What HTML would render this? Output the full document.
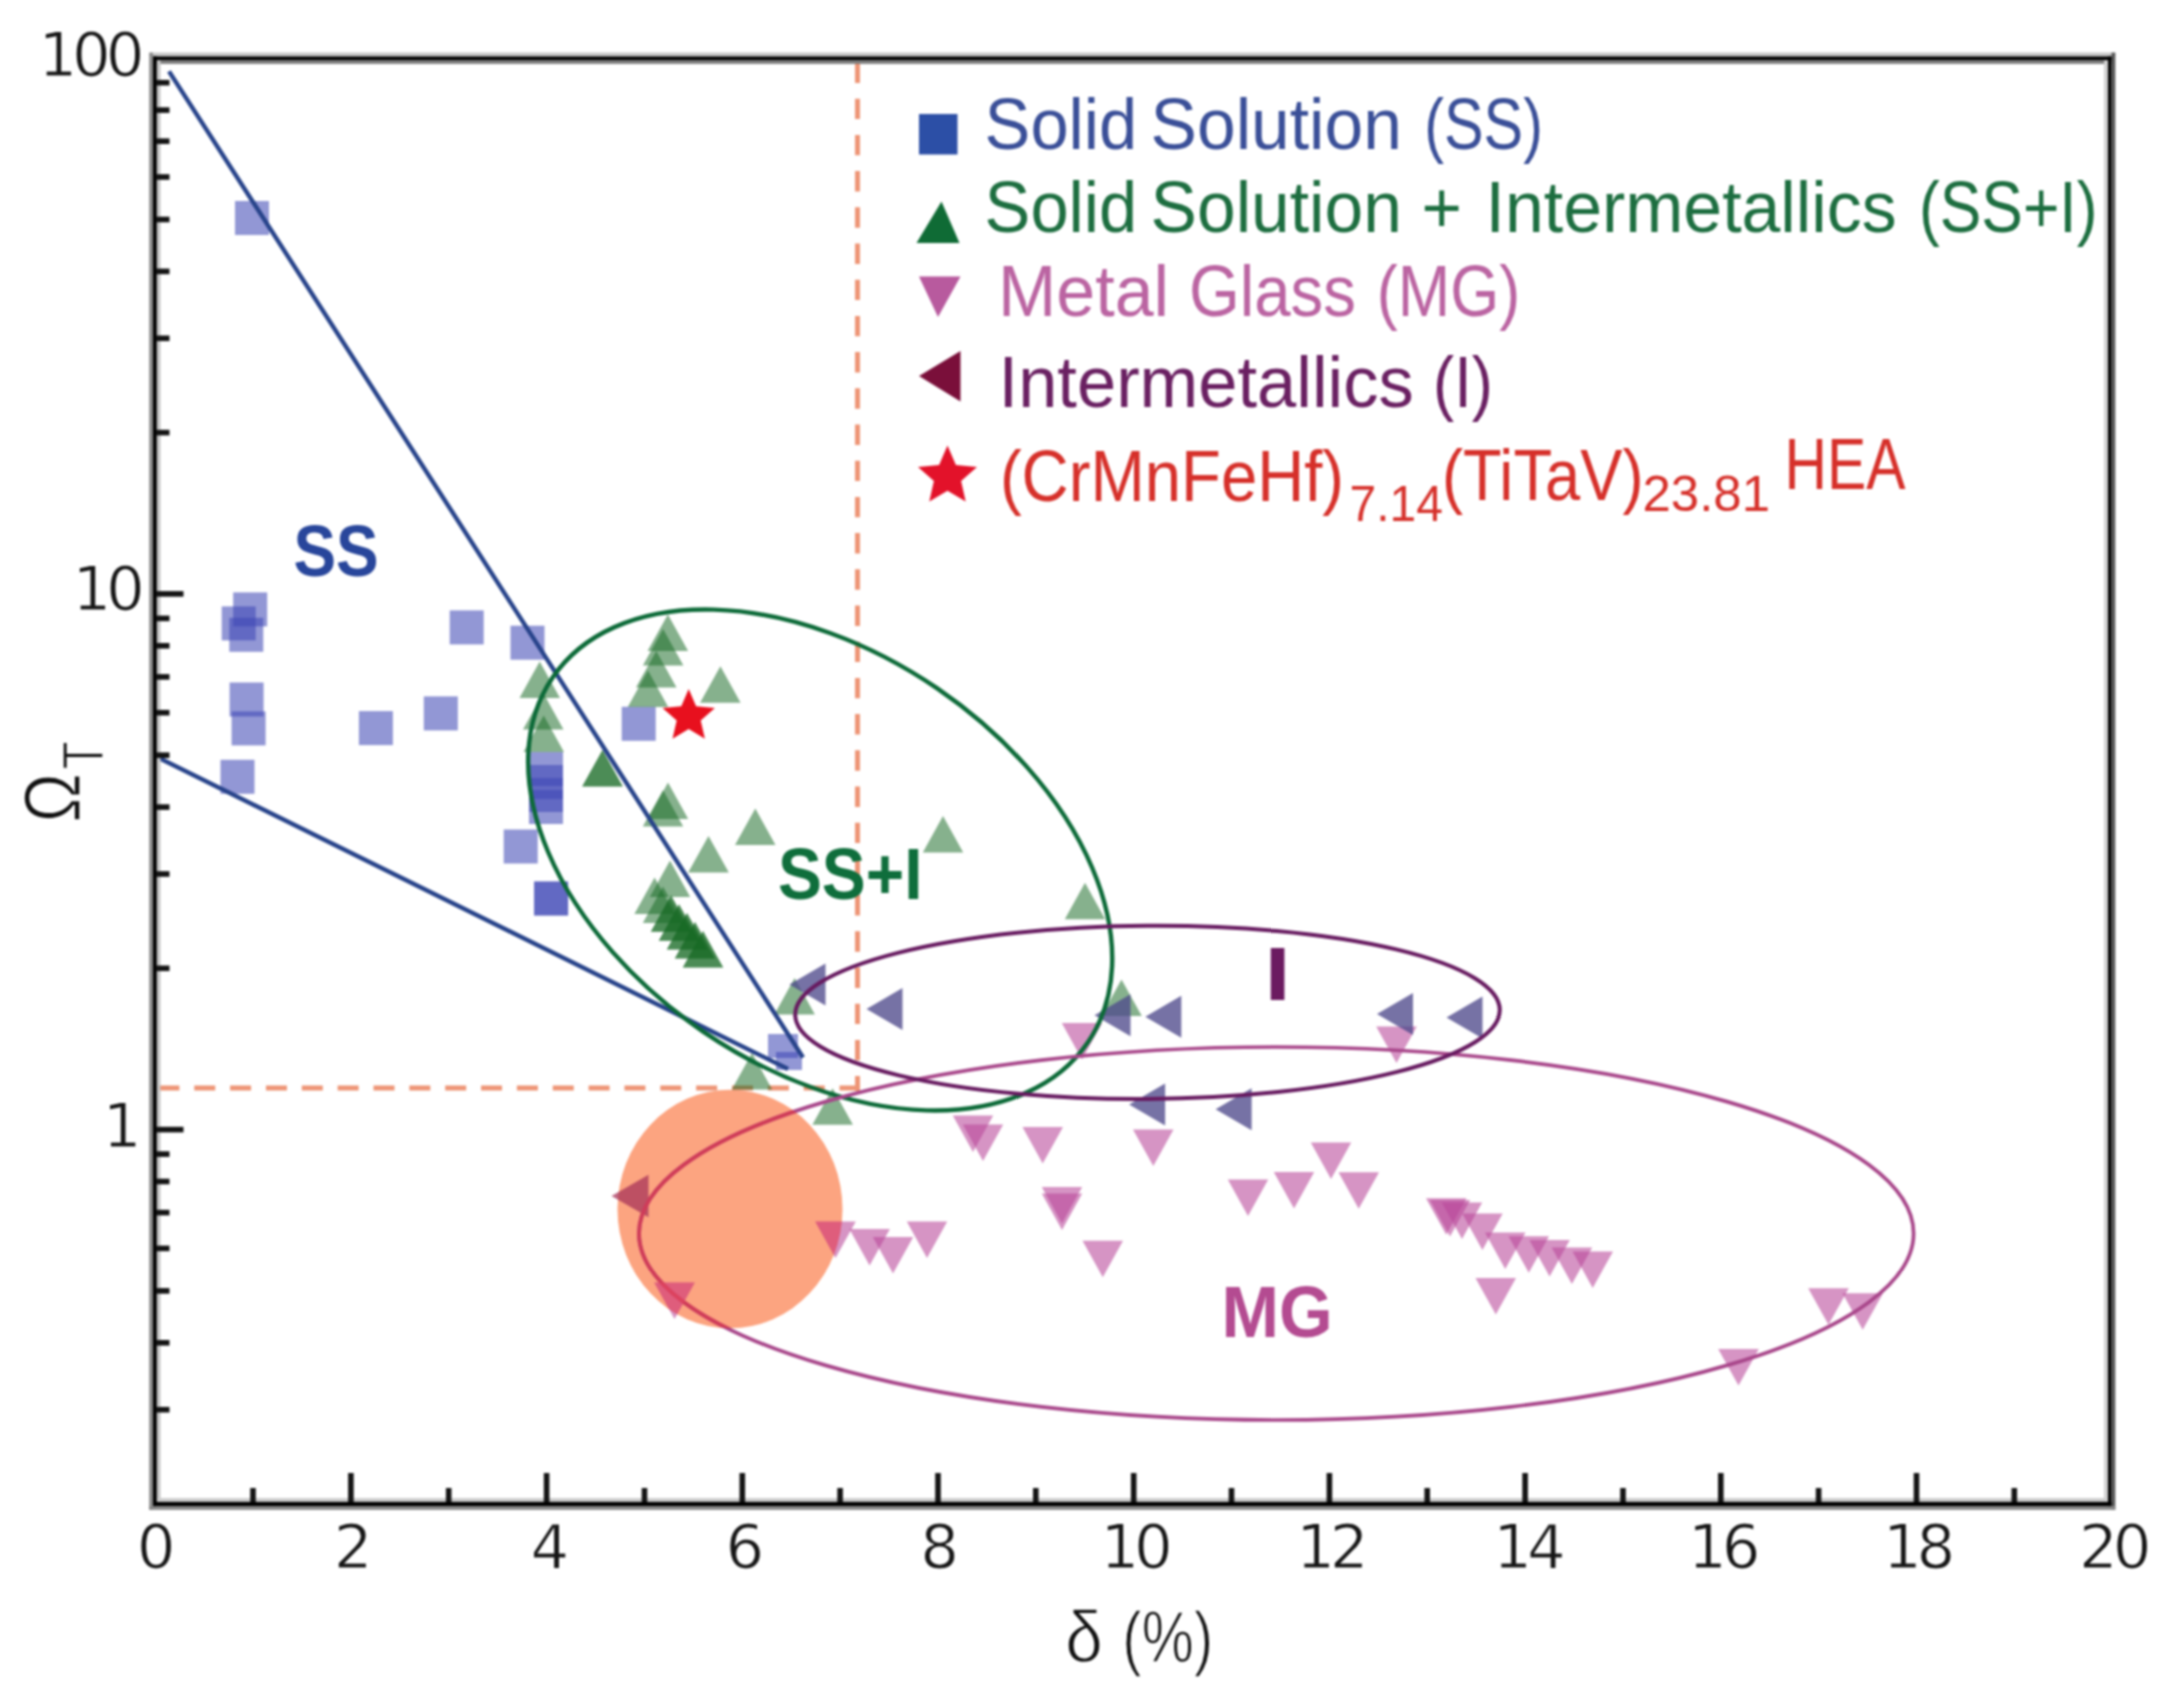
<!DOCTYPE html>
<html lang="en"><head><meta charset="utf-8"><title>Phase selection map</title>
<style>html,body{margin:0;padding:0;background:#fff;overflow:hidden;width:2169px;height:1704px}svg{display:block;filter:blur(0.8px)}text{font-family:"Liberation Sans",Arial,Helvetica,sans-serif}</style></head><body>
<svg width="2169" height="1704" viewBox="0 0 2169 1704">
<rect width="2169" height="1704" fill="#ffffff"/>
<ellipse cx="730" cy="1209" rx="112.5" ry="119.3" fill="#fca480"/>
<line x1="857.5" y1="62.5" x2="857.5" y2="1091" stroke="#ee9576" stroke-width="5" stroke-dasharray="20.4 15.8"/>
<line x1="158.4" y1="1088" x2="859" y2="1088" stroke="#ee9576" stroke-width="5" stroke-dasharray="21 14.85"/>
<g fill="#3c45b4" fill-opacity="0.56">
<rect x="235.0" y="201.0" width="34" height="34"/>
<rect x="233.2" y="592.4" width="34" height="34"/>
<rect x="221.7" y="606.4" width="34" height="34"/>
<rect x="229.3" y="617.8" width="34" height="34"/>
<rect x="449.7" y="610.4" width="34" height="34"/>
<rect x="510.5" y="625.7" width="34" height="34"/>
<rect x="229.6" y="682.5" width="34" height="34"/>
<rect x="231.6" y="711.4" width="34" height="34"/>
<rect x="220.5" y="759.8" width="34" height="34"/>
<rect x="358.9" y="711.1" width="34" height="34"/>
<rect x="423.8" y="696.4" width="34" height="34"/>
<rect x="621.7" y="706.8" width="34" height="34"/>
<rect x="529.0" y="752.0" width="34" height="34"/>
<rect x="529.0" y="765.0" width="34" height="34"/>
<rect x="529.0" y="778.0" width="34" height="34"/>
<rect x="529.0" y="790.0" width="34" height="34"/>
<rect x="503.7" y="829.5" width="34" height="34"/>
<rect x="534.1" y="881.5" width="34" height="34"/>
<rect x="534.1" y="881.5" width="34" height="34"/>
<rect x="768" y="1034" width="30" height="24"/><rect x="776" y="1052" width="26" height="18"/>
</g>
<g fill="#176a24" fill-opacity="0.52">
<path d="M647.6 651.0L688.1 651.0L667.9 614.5Z"/>
<path d="M642.9 665.5L683.4 665.5L663.1 629.0Z"/>
<path d="M636.0 687.5L676.5 687.5L656.3 651.0Z"/>
<path d="M627.8 707.0L668.2 707.0L648.0 670.5Z"/>
<path d="M700.1 702.7L740.6 702.7L720.4 666.2Z"/>
<path d="M519.5 698.0L560.0 698.0L539.7 661.5Z"/>
<path d="M523.0 729.4L563.5 729.4L543.3 692.9Z"/>
<path d="M523.5 752.0L564.0 752.0L543.7 715.5Z"/>
<path d="M735.0 845.0L775.5 845.0L755.3 808.5Z"/>
<path d="M688.2 872.5L728.8 872.5L708.5 836.0Z"/>
<path d="M922.8 852.5L963.2 852.5L943.0 816.0Z"/>
<path d="M1064.8 919.3L1105.2 919.3L1085.0 882.8Z"/>
<path d="M649.8 897.0L690.2 897.0L670.0 860.5Z"/>
<path d="M634.4 914.0L674.9 914.0L654.6 877.5Z"/>
<path d="M1101.2 1016.0L1141.8 1016.0L1121.5 979.5Z"/>
<path d="M774.4 1014.4L814.9 1014.4L794.6 977.9Z"/>
<path d="M731.8 1089.5L772.2 1089.5L752.0 1053.0Z"/>
<path d="M812.4 1124.7L852.9 1124.7L832.6 1088.2Z"/>
<path d="M582.2 786.5L622.8 786.5L602.5 750.0Z"/>
<path d="M582.2 786.5L622.8 786.5L602.5 750.0Z"/>
<path d="M647.8 819.0L688.2 819.0L668.0 782.5Z"/>
<path d="M642.8 826.5L683.2 826.5L663.0 790.0Z"/>
<path d="M642.8 922.9L683.2 922.9L663.0 886.4Z"/>
<path d="M650.8 931.8L691.2 931.8L671.0 895.3Z"/>
<path d="M658.8 940.7L699.2 940.7L679.0 904.2Z"/>
<path d="M666.8 949.6L707.2 949.6L687.0 913.1Z"/>
<path d="M674.8 958.5L715.2 958.5L695.0 922.0Z"/>
<path d="M682.8 967.4L723.2 967.4L703.0 930.9Z"/>
<path d="M650.8 931.8L691.2 931.8L671.0 895.3Z"/>
<path d="M658.8 940.7L699.2 940.7L679.0 904.2Z"/>
<path d="M666.8 949.6L707.2 949.6L687.0 913.1Z"/>
<path d="M674.8 958.5L715.2 958.5L695.0 922.0Z"/>
<path d="M682.8 967.4L723.2 967.4L703.0 930.9Z"/>
</g>
<g fill="#b8469a" fill-opacity="0.58">
<path d="M952.8 1115.5L993.2 1115.5L973.0 1152.0Z"/>
<path d="M962.8 1124.5L1003.2 1124.5L983.0 1161.0Z"/>
<path d="M1022.5 1127.0L1063.0 1127.0L1042.7 1163.5Z"/>
<path d="M1133.0 1129.4L1173.5 1129.4L1153.3 1165.9Z"/>
<path d="M1310.8 1142.5L1351.2 1142.5L1331.0 1179.0Z"/>
<path d="M1338.5 1172.3L1379.0 1172.3L1358.7 1208.8Z"/>
<path d="M1273.8 1172.0L1314.2 1172.0L1294.0 1208.5Z"/>
<path d="M1227.8 1179.4L1268.2 1179.4L1248.0 1215.9Z"/>
<path d="M1041.8 1187.0L1082.2 1187.0L1062.0 1223.5Z"/>
<path d="M1041.8 1193.5L1082.2 1193.5L1062.0 1230.0Z"/>
<path d="M1082.5 1240.7L1123.0 1240.7L1102.8 1277.2Z"/>
<path d="M815.2 1221.5L855.8 1221.5L835.5 1258.0Z"/>
<path d="M849.4 1229.0L889.9 1229.0L869.6 1265.5Z"/>
<path d="M872.8 1237.0L913.2 1237.0L893.0 1273.5Z"/>
<path d="M906.8 1221.5L947.2 1221.5L927.0 1258.0Z"/>
<path d="M1376.2 1026.5L1416.8 1026.5L1396.5 1063.0Z"/>
<path d="M1061.8 1023.0L1102.2 1023.0L1082.0 1059.5Z"/>
<path d="M1426.0 1198.2L1466.5 1198.2L1446.3 1234.7Z"/>
<path d="M1429.8 1200.0L1470.2 1200.0L1450.0 1236.5Z"/>
<path d="M1441.8 1202.5L1482.2 1202.5L1462.0 1239.0Z"/>
<path d="M1462.2 1213.4L1502.7 1213.4L1482.4 1249.9Z"/>
<path d="M1485.0 1232.4L1525.5 1232.4L1505.2 1268.9Z"/>
<path d="M1508.5 1236.2L1549.0 1236.2L1528.8 1272.7Z"/>
<path d="M1529.3 1240.0L1569.8 1240.0L1549.6 1276.5Z"/>
<path d="M1551.7 1247.6L1592.2 1247.6L1571.9 1284.1Z"/>
<path d="M1572.5 1251.4L1613.0 1251.4L1592.7 1287.9Z"/>
<path d="M1475.5 1278.0L1516.0 1278.0L1495.8 1314.5Z"/>
<path d="M1808.2 1288.2L1848.8 1288.2L1828.5 1324.7Z"/>
<path d="M1842.5 1293.3L1883.0 1293.3L1862.7 1329.8Z"/>
<path d="M1718.2 1349.0L1758.8 1349.0L1738.5 1385.5Z"/>
<path d="M654.2 1282.5L694.8 1282.5L674.5 1319.0Z"/>
</g>
<g fill="#504a8c" fill-opacity="0.78">
<path d="M866.5 1009.0L902.5 988.0L902.5 1030.0Z"/>
<path d="M789.5 984.5L825.5 963.5L825.5 1005.5Z"/>
<path d="M1145.3 1016.7L1181.3 995.7L1181.3 1037.7Z"/>
<path d="M1094.5 1015.3L1130.5 994.3L1130.5 1036.3Z"/>
<path d="M1377.0 1014.0L1413.0 993.0L1413.0 1035.0Z"/>
<path d="M1446.5 1017.5L1482.5 996.5L1482.5 1038.5Z"/>
<path d="M1129.1 1104.6L1165.1 1083.6L1165.1 1125.6Z"/>
<path d="M1215.6 1109.2L1251.6 1088.2L1251.6 1130.2Z"/>
</g>
<path d="M611.5 1196L648.5 1174.8L648.5 1217.2Z" fill="#a8345a" fill-opacity="0.75"/>
<g fill="none" stroke-linecap="butt">
<path d="M169 71.4L803 1057.5" stroke="#27438a" stroke-width="4.4"/>
<path d="M157 757L788 1069" stroke="#27438a" stroke-width="4.4"/>
<ellipse cx="820.2" cy="860" rx="323.9" ry="207.7" transform="rotate(34.3 820.2 860)" stroke="#0c6a38" stroke-width="4.4"/>
<ellipse cx="1276.3" cy="1233.5" rx="637.3" ry="186.5" stroke="#a8468a" stroke-width="3.7"/>
<ellipse cx="1147.5" cy="1012.4" rx="352.3" ry="86.6" transform="rotate(-0.4 1147.5 1012.4)" stroke="#671a60" stroke-width="4.0"/>
</g>
<clipPath id="oc"><ellipse cx="730" cy="1209" rx="112.5" ry="119.3"/></clipPath>
<g clip-path="url(#oc)">
<ellipse cx="1276.3" cy="1233.5" rx="637.3" ry="186.5" fill="none" stroke="#d03c58" stroke-width="3.9"/>
<path d="M815.2 1221.5L855.8 1221.5L835.5 1258.0Z" fill="#ea4a66" fill-opacity="0.45"/>
<path d="M654.2 1282.5L694.8 1282.5L674.5 1319.0Z" fill="#ea4a66" fill-opacity="0.45"/>
</g>
<path d="M688.7 689.0L696.1 706.3L714.9 708.0L700.7 720.4L704.9 738.7L688.7 729.1L672.5 738.7L676.7 720.4L662.5 708.0L681.3 706.3Z" fill="#e8101e"/>
<g>
<rect x="149.2" y="52.6" width="1966.1" height="3.8" fill="#c6c6c6"/>
<rect x="153" y="60.1" width="1958.5" height="3.8" fill="#7c7c7c"/>
<rect x="149.2" y="52.6" width="3.8" height="1457.3" fill="#8c8c8c"/>
<rect x="156.8" y="60.1" width="3.7" height="1441.8" fill="#c6c6c6"/>
<rect x="2104" y="60.1" width="4" height="1441.8" fill="#d0d0d0"/>
<rect x="2111.5" y="52.6" width="3.8" height="1457.3" fill="#585858"/>
<rect x="156.8" y="1498.1" width="1951.2" height="3.8" fill="#cccccc"/>
<rect x="149.2" y="1506.1" width="1966.1" height="3.8" fill="#888888"/>
<rect x="153" y="56.4" width="1958.5" height="3.7" fill="#000"/>
<rect x="153" y="1501.9" width="1958.5" height="4.2" fill="#000"/>
<rect x="153" y="56.4" width="3.8" height="1449.7" fill="#000"/>
<rect x="2108" y="56.4" width="3.5" height="1449.7" fill="#000"/>
</g>
<g stroke="#141414" fill="none" stroke-width="5.6">
<line x1="253.0" y1="1502" x2="253.0" y2="1488"/>
<line x1="350.9" y1="1502" x2="350.9" y2="1473"/>
<line x1="448.7" y1="1502" x2="448.7" y2="1488"/>
<line x1="546.6" y1="1502" x2="546.6" y2="1473"/>
<line x1="644.5" y1="1502" x2="644.5" y2="1488"/>
<line x1="742.3" y1="1502" x2="742.3" y2="1473"/>
<line x1="840.1" y1="1502" x2="840.1" y2="1488"/>
<line x1="938.0" y1="1502" x2="938.0" y2="1473"/>
<line x1="1035.8" y1="1502" x2="1035.8" y2="1488"/>
<line x1="1133.7" y1="1502" x2="1133.7" y2="1473"/>
<line x1="1231.5" y1="1502" x2="1231.5" y2="1488"/>
<line x1="1329.4" y1="1502" x2="1329.4" y2="1473"/>
<line x1="1427.2" y1="1502" x2="1427.2" y2="1488"/>
<line x1="1525.1" y1="1502" x2="1525.1" y2="1473"/>
<line x1="1623.0" y1="1502" x2="1623.0" y2="1488"/>
<line x1="1720.8" y1="1502" x2="1720.8" y2="1473"/>
<line x1="1818.6" y1="1502" x2="1818.6" y2="1488"/>
<line x1="1916.5" y1="1502" x2="1916.5" y2="1473"/>
<line x1="2014.3" y1="1502" x2="2014.3" y2="1488"/>
<line x1="156" y1="1409.7" x2="169.5" y2="1409.7"/>
<line x1="156" y1="1342.8" x2="169.5" y2="1342.8"/>
<line x1="156" y1="1290.9" x2="169.5" y2="1290.9"/>
<line x1="156" y1="1248.4" x2="169.5" y2="1248.4"/>
<line x1="156" y1="1212.6" x2="169.5" y2="1212.6"/>
<line x1="156" y1="1181.5" x2="169.5" y2="1181.5"/>
<line x1="156" y1="1154.1" x2="169.5" y2="1154.1"/>
<line x1="156" y1="1129.6" x2="183.5" y2="1129.6"/>
<line x1="156" y1="968.3" x2="169.5" y2="968.3"/>
<line x1="156" y1="874.0" x2="169.5" y2="874.0"/>
<line x1="156" y1="807.1" x2="169.5" y2="807.1"/>
<line x1="156" y1="755.2" x2="169.5" y2="755.2"/>
<line x1="156" y1="712.7" x2="169.5" y2="712.7"/>
<line x1="156" y1="676.9" x2="169.5" y2="676.9"/>
<line x1="156" y1="645.8" x2="169.5" y2="645.8"/>
<line x1="156" y1="618.4" x2="169.5" y2="618.4"/>
<line x1="156" y1="593.9" x2="183.5" y2="593.9"/>
<line x1="156" y1="432.6" x2="169.5" y2="432.6"/>
<line x1="156" y1="338.3" x2="169.5" y2="338.3"/>
<line x1="156" y1="271.4" x2="169.5" y2="271.4"/>
<line x1="156" y1="219.5" x2="169.5" y2="219.5"/>
<line x1="156" y1="177.0" x2="169.5" y2="177.0"/>
<line x1="156" y1="141.2" x2="169.5" y2="141.2"/>
<line x1="156" y1="110.1" x2="169.5" y2="110.1"/>
<line x1="156" y1="82.7" x2="169.5" y2="82.7"/>
</g>
<g font-family="DejaVu Sans, Liberation Sans, sans-serif" font-size="61" fill="#161616" stroke="#ffffff" stroke-width="1.1" letter-spacing="-5.2">
<text x="136.7" y="1568" style="font-family:'DejaVu Sans','Liberation Sans',sans-serif">0</text>
<text x="333.8" y="1568" style="font-family:'DejaVu Sans','Liberation Sans',sans-serif">2</text>
<text x="530.6" y="1568" style="font-family:'DejaVu Sans','Liberation Sans',sans-serif">4</text>
<text x="725.5" y="1568" style="font-family:'DejaVu Sans','Liberation Sans',sans-serif">6</text>
<text x="920.3" y="1568" style="font-family:'DejaVu Sans','Liberation Sans',sans-serif">8</text>
<text x="1100.5" y="1568" style="font-family:'DejaVu Sans','Liberation Sans',sans-serif">10</text>
<text x="1296.2" y="1568" style="font-family:'DejaVu Sans','Liberation Sans',sans-serif">12</text>
<text x="1493.3" y="1568" style="font-family:'DejaVu Sans','Liberation Sans',sans-serif">14</text>
<text x="1688.1" y="1568" style="font-family:'DejaVu Sans','Liberation Sans',sans-serif">16</text>
<text x="1882.9" y="1568" style="font-family:'DejaVu Sans','Liberation Sans',sans-serif">18</text>
<text x="2079.1" y="1568" style="font-family:'DejaVu Sans','Liberation Sans',sans-serif">20</text>
<text x="38.5" y="75.5" style="font-family:'DejaVu Sans','Liberation Sans',sans-serif">100</text>
<text x="72.5" y="610" style="font-family:'DejaVu Sans','Liberation Sans',sans-serif">10</text>
<text x="102.8" y="1147" style="font-family:'DejaVu Sans','Liberation Sans',sans-serif">1</text>
</g>
<text x="984.6" y="148.5" font-size="72" fill="#3a4f98" textLength="152.7" lengthAdjust="spacingAndGlyphs">Solid</text>
<text x="1150.6" y="148.5" font-size="72" fill="#3a4f98" textLength="251.3" lengthAdjust="spacingAndGlyphs">Solution</text>
<text x="1424.2" y="148.5" font-size="72" fill="#3a4f98" textLength="118.7" lengthAdjust="spacingAndGlyphs">(SS)</text>
<text x="984.6" y="232.4" font-size="72" fill="#1d6e40" textLength="152.7" lengthAdjust="spacingAndGlyphs">Solid</text>
<text x="1150.6" y="232.4" font-size="72" fill="#1d6e40" textLength="251.3" lengthAdjust="spacingAndGlyphs">Solution</text>
<text x="1421.5" y="232.4" font-size="72" fill="#1d6e40" textLength="40.4" lengthAdjust="spacingAndGlyphs">+</text>
<text x="1485.6" y="232.4" font-size="72" fill="#1d6e40" textLength="411.0" lengthAdjust="spacingAndGlyphs">Intermetallics</text>
<text x="1919.0" y="232.4" font-size="72" fill="#1d6e40" textLength="178.4" lengthAdjust="spacingAndGlyphs">(SS+I)</text>
<text x="998.1" y="316.3" font-size="72" fill="#bb64a2" textLength="171.0" lengthAdjust="spacingAndGlyphs">Metal</text>
<text x="1188.9" y="316.3" font-size="72" fill="#bb64a2" textLength="166.9" lengthAdjust="spacingAndGlyphs">Glass</text>
<text x="1376.8" y="316.3" font-size="72" fill="#bb64a2" textLength="143.5" lengthAdjust="spacingAndGlyphs">(MG)</text>
<text x="998.6" y="406.7" font-size="72" fill="#6a2062" textLength="415.1" lengthAdjust="spacingAndGlyphs">Intermetallics</text>
<text x="1433.1" y="406.7" font-size="72" fill="#6a2062" textLength="59.8" lengthAdjust="spacingAndGlyphs">(I)</text>
<text x="999.9" y="500.5" font-size="72" fill="#d6302a" textLength="344.2" lengthAdjust="spacingAndGlyphs">(CrMnFeHf)</text>
<text x="1349.5" y="521" font-size="50" fill="#d6302a" textLength="93.3" lengthAdjust="spacingAndGlyphs">7.14</text>
<text x="1442.0" y="500.2" font-size="72" fill="#d6302a" textLength="201.5" lengthAdjust="spacingAndGlyphs">(TiTaV)</text>
<text x="1642.5" y="510.7" font-size="49.5" fill="#d6302a" textLength="127.5" lengthAdjust="spacingAndGlyphs">23.81</text>
<text x="1784.4" y="489.3" font-size="72" fill="#d6302a" textLength="121.0" lengthAdjust="spacingAndGlyphs">HEA</text>
<text x="293.5" y="576.3" font-size="71.5" fill="#28469b" textLength="85.2" lengthAdjust="spacingAndGlyphs" font-weight="bold">SS</text>
<text x="777.9" y="899.3" font-size="72" fill="#0f6e3c" textLength="144.6" lengthAdjust="spacingAndGlyphs" font-weight="bold">SS+I</text>
<text x="1221.5" y="1337.2" font-size="72" fill="#b44b91" textLength="111.2" lengthAdjust="spacingAndGlyphs" font-weight="bold">MG</text>
<text x="1266.7" y="998.6" font-size="72" fill="#6b1a60" textLength="21.7" lengthAdjust="spacingAndGlyphs" font-weight="bold" stroke="#6b1a60" stroke-width="2.2">I</text>
<text x="1065.2" y="1662" font-size="72" fill="#111" textLength="37.6" lengthAdjust="spacingAndGlyphs" stroke="#ffffff" stroke-width="1.3">δ</text>
<text x="1122.2" y="1662" font-size="72" fill="#111" textLength="91.0" lengthAdjust="spacingAndGlyphs" stroke="#ffffff" stroke-width="1.3">(%)</text>
<text transform="translate(80.0 820.7) rotate(-90)" x="-1.7" y="0" font-size="79" fill="#111" textLength="49.3" lengthAdjust="spacingAndGlyphs" stroke="#ffffff" stroke-width="1.3">Ω</text>
<text transform="translate(102.6 820.7) rotate(-90)" x="51.4" y="0" font-size="56.5" fill="#111" textLength="27.8" lengthAdjust="spacingAndGlyphs" stroke="#ffffff" stroke-width="1.3">T</text>
<rect x="919" y="114" width="38.5" height="40.5" fill="#2c4fa6"/>
<path d="M916.5 243L959.5 243L941.5 201.5Z" fill="#0f6b35"/>
<path d="M919 276.5L960.5 276.5L938 317Z" fill="#b85a9e"/>
<path d="M919 376L960.5 351L960.5 401.5Z" fill="#7a0f3a"/>
<path d="M947.5 445.5L955.9 465.0L977.0 466.9L961.1 480.9L965.7 501.6L947.5 490.8L929.3 501.6L933.9 480.9L918.0 466.9L939.1 465.0Z" fill="#e3122a"/>
</svg></body></html>
